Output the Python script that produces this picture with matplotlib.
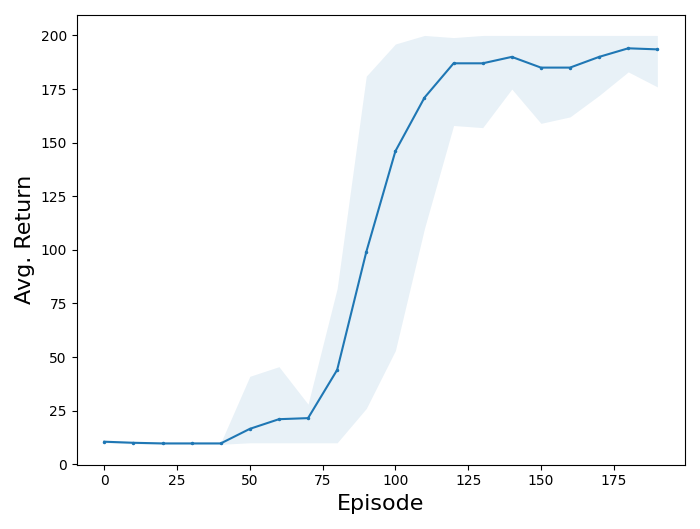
import numpy as np
import matplotlib
matplotlib.use("Agg")
import matplotlib.pyplot as plt

episodes = list(range(0, 200, 10))
mean_ret = [10.5, 10, 9.7, 9.7, 9.7, 16.5, 21, 21.5, 44, 99,
            146, 171, 187, 187, 190, 185, 185, 190, 194, 193.5]
upper = [11, 10.5, 10, 10, 10, 41, 45.5, 28, 82, 181,
         196, 200, 199, 200, 200, 200, 200, 200, 200, 200]
lower = [10, 9.5, 9.3, 9.3, 9.3, 10, 10, 10, 10, 26,
         53, 110, 158, 157, 175, 159, 162, 172, 183, 176]

fig, ax = plt.subplots(figsize=(7.0, 5.29), dpi=100)
ax.fill_between(episodes, lower, upper, color="#1f77b4", alpha=0.1, linewidth=0)
ax.plot(episodes, mean_ret, "o-", color="#1f77b4", markersize=1.5)
ax.set_xlabel("Episode", fontsize=16)
ax.set_ylabel("Avg. Return", fontsize=16)
fig.tight_layout()
fig.savefig("out.png", dpi=100)
